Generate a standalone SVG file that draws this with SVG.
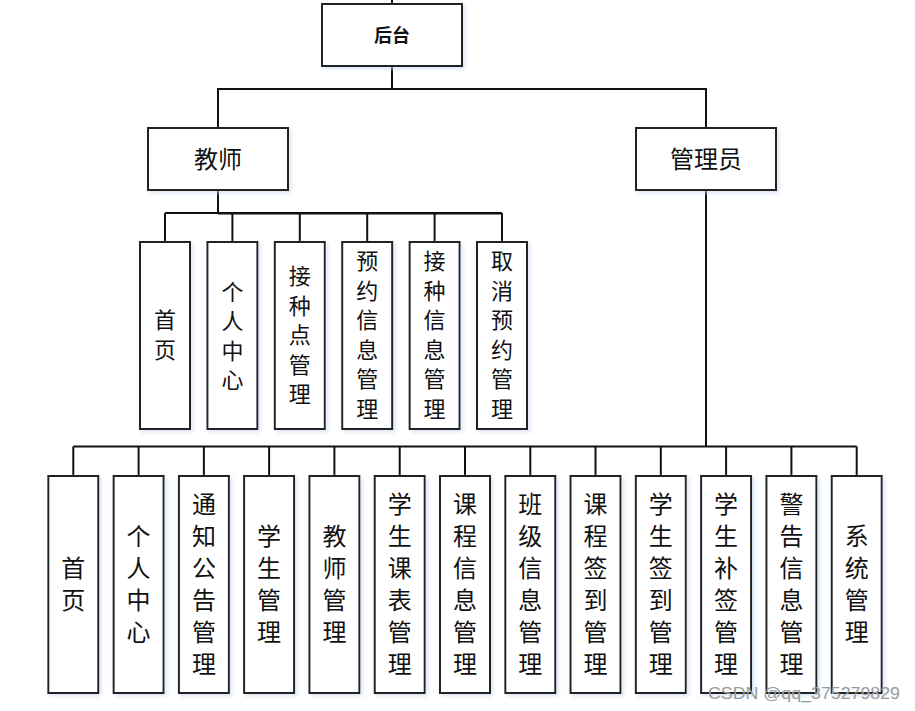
<svg xmlns="http://www.w3.org/2000/svg" width="915" height="711" viewBox="0 0 915 711">
<style>
.box{fill:#ffffff;stroke:#222222;stroke-width:2;filter:url(#sh)}
.t{font-family:"Noto Sans CJK SC","Noto Sans",sans-serif;fill:#111111;text-anchor:middle;dominant-baseline:central}
.ts{font-size:22px}
.tb{font-size:24px}
.conn{stroke:#111111;stroke-width:2;fill:none}
.wm{font-family:"Liberation Sans",Arial,sans-serif;font-size:16px;fill:#9a9a9a}
</style>
<defs>
<filter id="sh" x="-20%" y="-20%" width="140%" height="140%">
<feDropShadow dx="2" dy="2" stdDeviation="2" flood-color="#c8d8f0" flood-opacity="0.7"/>
</filter>
</defs>
<g id="connectors" class="conn">
<line x1="392" y1="0" x2="392" y2="4"/>
<polyline points="392,66 392,89"/>
<polyline points="218,128 218,89 706,89 706,128"/>
<polyline points="218,190 218,213"/>
<line x1="165" y1="213" x2="502" y2="213"/>
<line x1="218" y1="213.5" x2="502" y2="213.5"/>
<line x1="165" y1="213" x2="165" y2="242"/>
<line x1="232.4" y1="213" x2="232.4" y2="242"/>
<line x1="299.8" y1="213" x2="299.8" y2="242"/>
<line x1="367.2" y1="213" x2="367.2" y2="242"/>
<line x1="434.6" y1="213" x2="434.6" y2="242"/>
<line x1="502" y1="213" x2="502" y2="242"/>
<polyline points="706,190 706,446.5"/>
<line x1="73.3" y1="446.5" x2="856.7" y2="446.5"/>
<line x1="73.3" y1="446.5" x2="73.3" y2="476"/>
<line x1="138.6" y1="446.5" x2="138.6" y2="476"/>
<line x1="203.9" y1="446.5" x2="203.9" y2="476"/>
<line x1="269.1" y1="446.5" x2="269.1" y2="476"/>
<line x1="334.4" y1="446.5" x2="334.4" y2="476"/>
<line x1="399.7" y1="446.5" x2="399.7" y2="476"/>
<line x1="465" y1="446.5" x2="465" y2="476"/>
<line x1="530.3" y1="446.5" x2="530.3" y2="476"/>
<line x1="595.5" y1="446.5" x2="595.5" y2="476"/>
<line x1="660.8" y1="446.5" x2="660.8" y2="476"/>
<line x1="726.1" y1="446.5" x2="726.1" y2="476"/>
<line x1="791.4" y1="446.5" x2="791.4" y2="476"/>
<line x1="856.7" y1="446.5" x2="856.7" y2="476"/>
</g>
<g id="root"><rect class="box" x="322" y="4" width="140" height="62"/><text class="t" x="392" y="34" style="font-size:18px;font-weight:bold">后台</text></g>
<g id="teacher"><rect class="box" x="148" y="128" width="140" height="62"/><text class="t" x="218" y="157" style="font-size:24px">教师</text></g>
<g id="admin"><rect class="box" x="636" y="128" width="140" height="62"/><text class="t" x="706" y="157" style="font-size:24px">管理员</text></g>

<g id="t1"><rect class="box" x="140" y="242" width="50" height="187"/><text class="t ts"><tspan x="165" y="318">首</tspan><tspan x="165" y="348">页</tspan></text></g>
<g id="t2"><rect class="box" x="207.4" y="242" width="50" height="187"/><text class="t ts"><tspan x="232.4" y="289.5">个</tspan><tspan x="232.4" y="319">人</tspan><tspan x="232.4" y="348.5">中</tspan><tspan x="232.4" y="378">心</tspan></text></g>
<g id="t3"><rect class="box" x="274.8" y="242" width="50" height="187"/><text class="t ts"><tspan x="299.8" y="274">接</tspan><tspan x="299.8" y="303.5">种</tspan><tspan x="299.8" y="333">点</tspan><tspan x="299.8" y="362.5">管</tspan><tspan x="299.8" y="392">理</tspan></text></g>
<g id="t4"><rect class="box" x="342.2" y="242" width="50" height="187"/><text class="t ts"><tspan x="367.2" y="259">预</tspan><tspan x="367.2" y="288.5">约</tspan><tspan x="367.2" y="318">信</tspan><tspan x="367.2" y="347.5">息</tspan><tspan x="367.2" y="377">管</tspan><tspan x="367.2" y="406.5">理</tspan></text></g>
<g id="t5"><rect class="box" x="409.6" y="242" width="50" height="187"/><text class="t ts"><tspan x="434.6" y="259">接</tspan><tspan x="434.6" y="288.5">种</tspan><tspan x="434.6" y="318">信</tspan><tspan x="434.6" y="347.5">息</tspan><tspan x="434.6" y="377">管</tspan><tspan x="434.6" y="406.5">理</tspan></text></g>
<g id="t6"><rect class="box" x="477" y="242" width="50" height="187"/><text class="t ts"><tspan x="502" y="259">取</tspan><tspan x="502" y="288.5">消</tspan><tspan x="502" y="318">预</tspan><tspan x="502" y="347.5">约</tspan><tspan x="502" y="377">管</tspan><tspan x="502" y="406.5">理</tspan></text></g>

<g id="a1"><rect class="box" x="48.3" y="476" width="50" height="217"/><text class="t tb"><tspan x="73.3" y="566">首</tspan><tspan x="73.3" y="598">页</tspan></text></g>
<g id="a2"><rect class="box" x="113.6" y="476" width="50" height="217"/><text class="t tb"><tspan x="138.6" y="534">个</tspan><tspan x="138.6" y="566">人</tspan><tspan x="138.6" y="598">中</tspan><tspan x="138.6" y="630">心</tspan></text></g>
<g id="a3"><rect class="box" x="178.9" y="476" width="50" height="217"/><text class="t tb"><tspan x="203.9" y="502">通</tspan><tspan x="203.9" y="534">知</tspan><tspan x="203.9" y="566">公</tspan><tspan x="203.9" y="598">告</tspan><tspan x="203.9" y="630">管</tspan><tspan x="203.9" y="662">理</tspan></text></g>
<g id="a4"><rect class="box" x="244.1" y="476" width="50" height="217"/><text class="t tb"><tspan x="269.1" y="534">学</tspan><tspan x="269.1" y="566">生</tspan><tspan x="269.1" y="598">管</tspan><tspan x="269.1" y="630">理</tspan></text></g>
<g id="a5"><rect class="box" x="309.4" y="476" width="50" height="217"/><text class="t tb"><tspan x="334.4" y="534">教</tspan><tspan x="334.4" y="566">师</tspan><tspan x="334.4" y="598">管</tspan><tspan x="334.4" y="630">理</tspan></text></g>
<g id="a6"><rect class="box" x="374.7" y="476" width="50" height="217"/><text class="t tb"><tspan x="399.7" y="502">学</tspan><tspan x="399.7" y="534">生</tspan><tspan x="399.7" y="566">课</tspan><tspan x="399.7" y="598">表</tspan><tspan x="399.7" y="630">管</tspan><tspan x="399.7" y="662">理</tspan></text></g>
<g id="a7"><rect class="box" x="440" y="476" width="50" height="217"/><text class="t tb"><tspan x="465" y="502">课</tspan><tspan x="465" y="534">程</tspan><tspan x="465" y="566">信</tspan><tspan x="465" y="598">息</tspan><tspan x="465" y="630">管</tspan><tspan x="465" y="662">理</tspan></text></g>
<g id="a8"><rect class="box" x="505.3" y="476" width="50" height="217"/><text class="t tb"><tspan x="530.3" y="502">班</tspan><tspan x="530.3" y="534">级</tspan><tspan x="530.3" y="566">信</tspan><tspan x="530.3" y="598">息</tspan><tspan x="530.3" y="630">管</tspan><tspan x="530.3" y="662">理</tspan></text></g>
<g id="a9"><rect class="box" x="570.5" y="476" width="50" height="217"/><text class="t tb"><tspan x="595.5" y="502">课</tspan><tspan x="595.5" y="534">程</tspan><tspan x="595.5" y="566">签</tspan><tspan x="595.5" y="598">到</tspan><tspan x="595.5" y="630">管</tspan><tspan x="595.5" y="662">理</tspan></text></g>
<g id="a10"><rect class="box" x="635.8" y="476" width="50" height="217"/><text class="t tb"><tspan x="660.8" y="502">学</tspan><tspan x="660.8" y="534">生</tspan><tspan x="660.8" y="566">签</tspan><tspan x="660.8" y="598">到</tspan><tspan x="660.8" y="630">管</tspan><tspan x="660.8" y="662">理</tspan></text></g>
<g id="a11"><rect class="box" x="701.1" y="476" width="50" height="217"/><text class="t tb"><tspan x="726.1" y="502">学</tspan><tspan x="726.1" y="534">生</tspan><tspan x="726.1" y="566">补</tspan><tspan x="726.1" y="598">签</tspan><tspan x="726.1" y="630">管</tspan><tspan x="726.1" y="662">理</tspan></text></g>
<g id="a12"><rect class="box" x="766.4" y="476" width="50" height="217"/><text class="t tb"><tspan x="791.4" y="502">警</tspan><tspan x="791.4" y="534">告</tspan><tspan x="791.4" y="566">信</tspan><tspan x="791.4" y="598">息</tspan><tspan x="791.4" y="630">管</tspan><tspan x="791.4" y="662">理</tspan></text></g>
<g id="a13"><rect class="box" x="831.7" y="476" width="50" height="217"/><text class="t tb"><tspan x="856.7" y="534">系</tspan><tspan x="856.7" y="566">统</tspan><tspan x="856.7" y="598">管</tspan><tspan x="856.7" y="630">理</tspan></text></g>

<text class="wm" x="708" y="699" textLength="192" lengthAdjust="spacingAndGlyphs">CSDN @qq_375279829</text>
</svg>
